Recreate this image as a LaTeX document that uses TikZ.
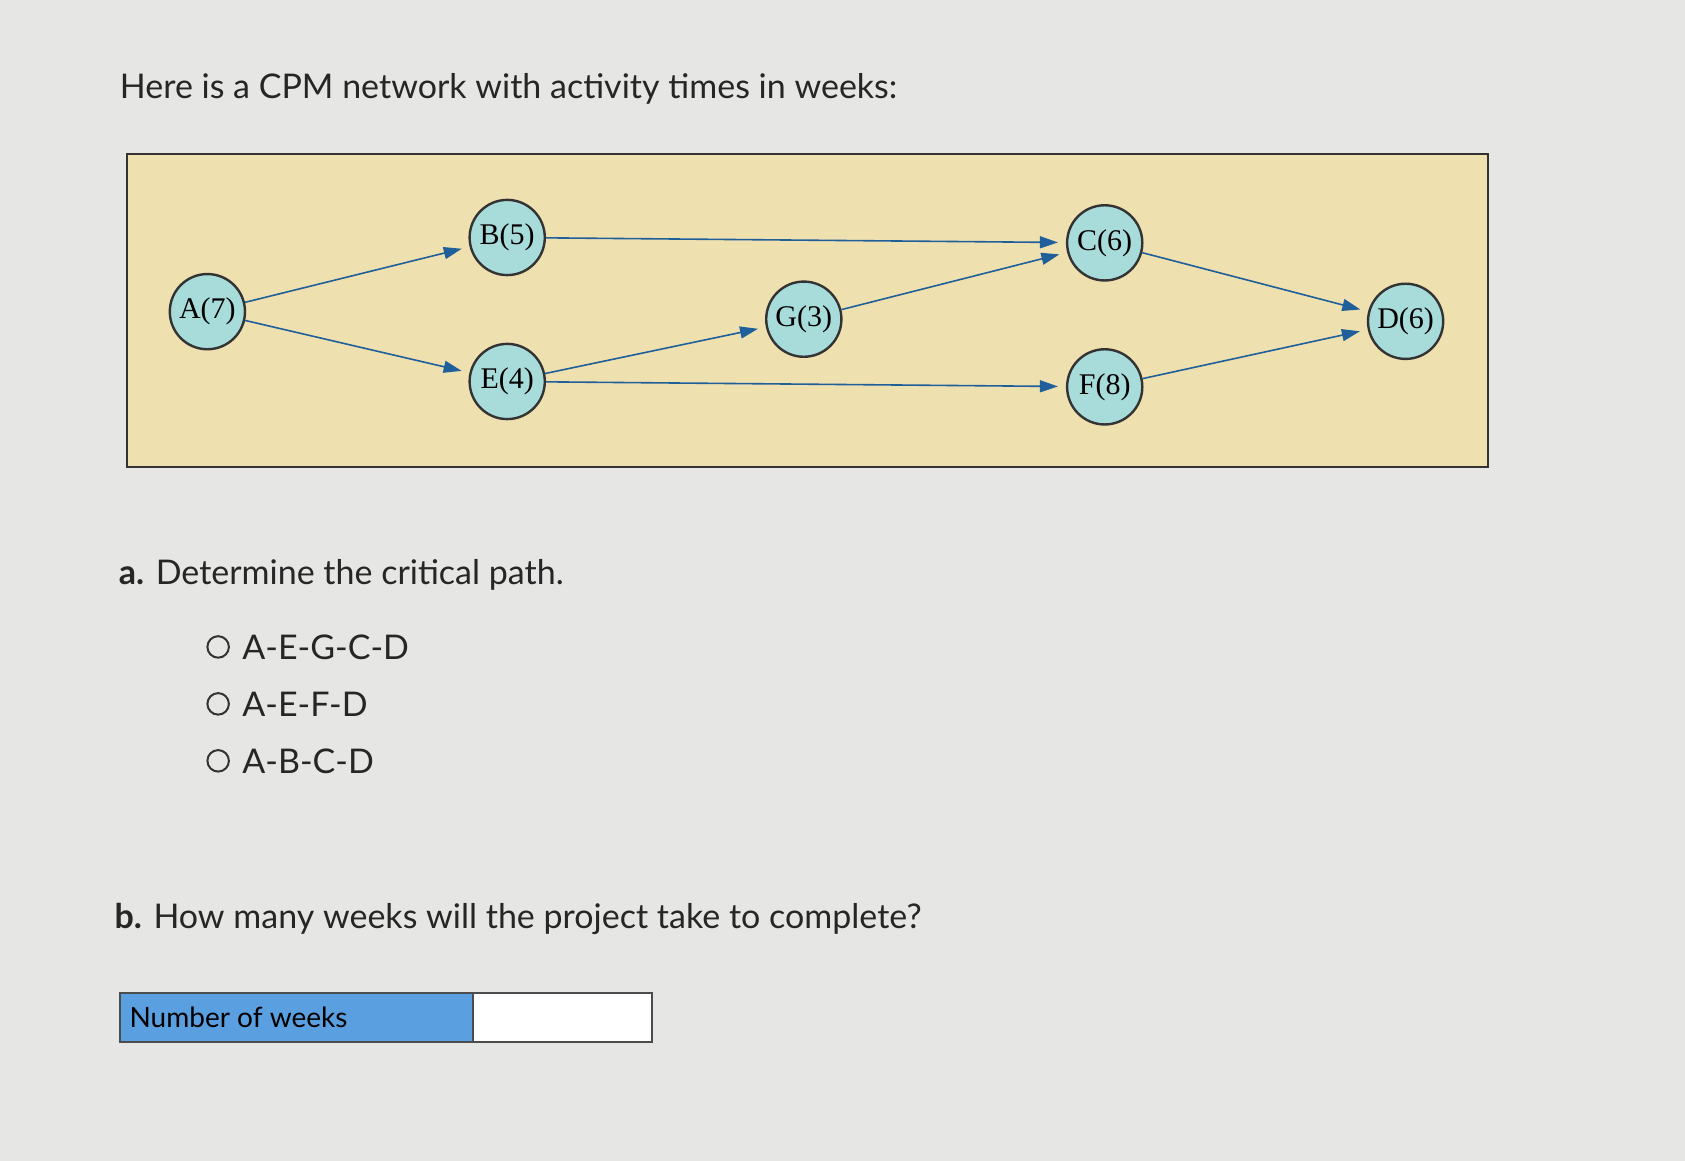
\documentclass[tikz,border=0pt]{standalone}
\usepackage{fontspec}
\setmainfont{Lato}
\newfontfamily\nodefont{Liberation Serif}
\usetikzlibrary{arrows.meta}
\definecolor{bg}{HTML}{E6E6E4}
\definecolor{tan}{HTML}{EFE0B0}
\definecolor{cy}{HTML}{A8DCDA}
\definecolor{ar}{HTML}{1F5F9A}
\definecolor{bl}{HTML}{5A9FE0}
\tikzset{
 act/.style={circle,draw=black!80,line width=1.2pt,fill=cy,minimum size=37.6pt,inner sep=0pt,font=\nodefont\fontsize{15}{15}\selectfont},
 con/.style={draw=ar,line width=0.8pt,-{Triangle[length=9pt,width=6pt]},shorten >=4pt},
 txt/.style={anchor=west,font=\fontsize{17}{20}\selectfont,text=black!85}
}
\begin{document}
\begin{tikzpicture}[x=0.5373pt,y=-0.5373pt]
\useasboundingbox (0,0) rectangle (1568,1080);
\fill[bg] (0,0) rectangle (1568,1080);
\node[txt] (title) at (105,83) {Here is a CPM network with activity times in weeks:};
\draw[fill=tan,draw=black!80,line width=1pt] (118,143) rectangle (1385,435);
\node[act] (A) at (193,290) {A(7)};
\node[act] (B) at (472,221) {B(5)};
\node[act] (E) at (472,355) {E(4)};
\node[act] (G) at (748,297) {G(3)};
\node[act] (C) at (1028,226) {C(6)};
\node[act] (F) at (1028,360) {F(8)};
\node[act] (D) at (1308,299) {D(6)};
\draw[con] (A) -- (B);
\draw[con] (A) -- (E);
\draw[con] (B) -- (C);
\draw[con] (E) -- (G);
\draw[con] (E) -- (F);
\draw[con] (G) -- (C);
\draw[con] (C) -- (D);
\draw[con] (F) -- (D);
\node[txt] (qa) at (104,535) {\textbf{a.} Determine the critical path.};
\foreach \y/\t/\n in {602/A-E-G-C-D/o1,655/A-E-F-D/o2,708/A-B-C-D/o3}{
 \draw[black!80,line width=1pt] (203,\y) circle (10);
 \node[txt] (\n) at (219,\y) {\t};
}
\node[txt] (qb) at (100,855) {\textbf{b.} How many weeks will the project take to complete?};
\draw[fill=bl,draw=black!70,line width=1pt] (112,924) rectangle (440,970);
\draw[fill=white,draw=black!70,line width=1pt] (440,924) rectangle (607,970);
\node[anchor=west,font=\fontsize{14}{16}\selectfont] (nw) at (114,947) {Number of weeks};
\end{tikzpicture}
\end{document}
